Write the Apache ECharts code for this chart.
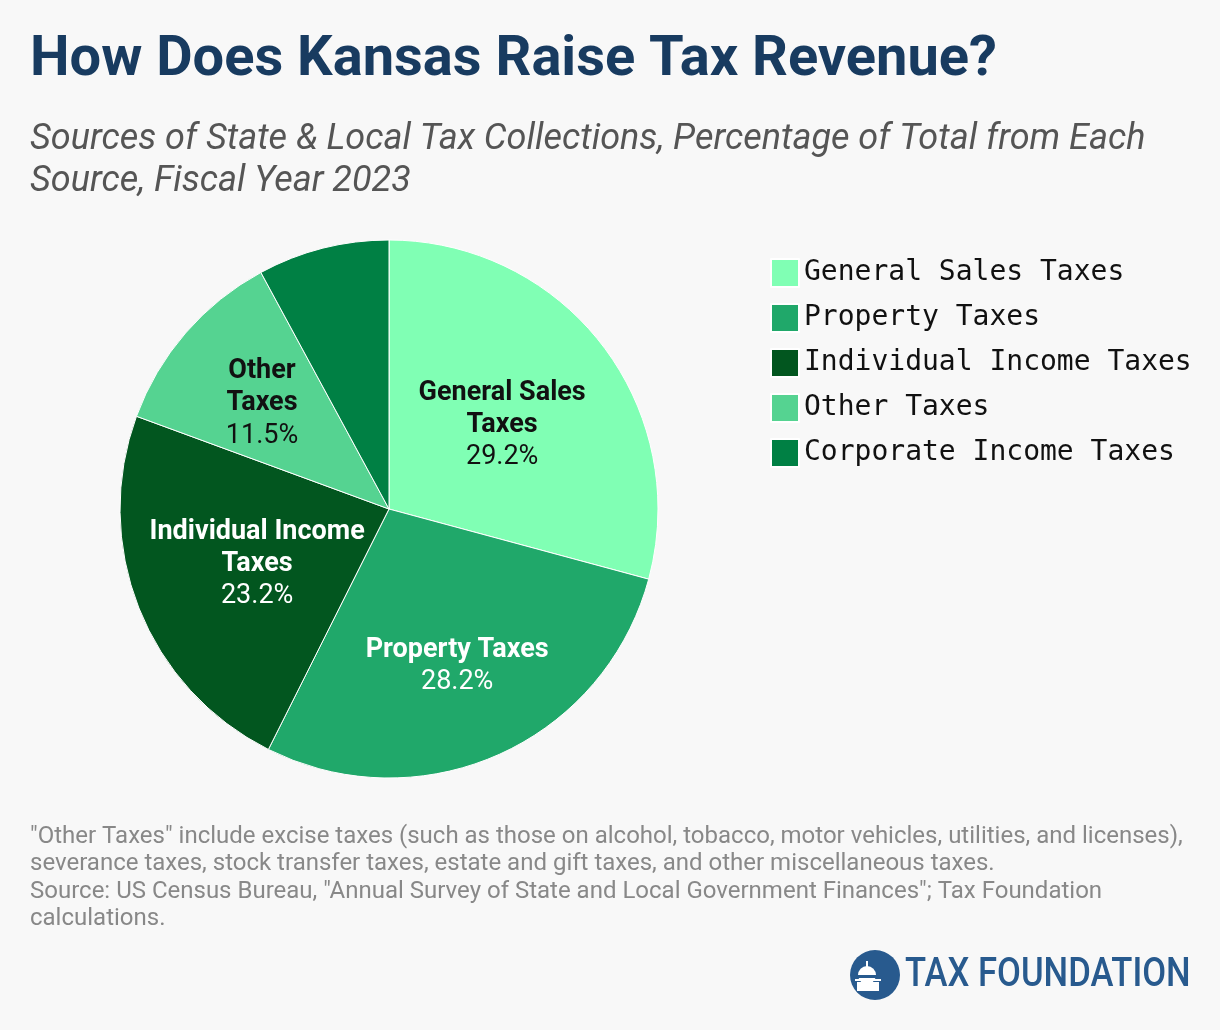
<!DOCTYPE html>
<html>
<head>
<meta charset="utf-8">
<script src="https://cdn.jsdelivr.net/npm/echarts@6/dist/echarts.min.js"></script>
<style>
  html, body { margin: 0; padding: 0; background: #f8f8f8; }
  #chart { width: 1220px; height: 1030px; }
</style>
</head>
<body>
<div id="chart"></div>
<script>
// 数据
const categories = ['General Sales Taxes', 'Property Taxes', 'Individual Income Taxes', 'Other Taxes', 'Corporate Income Taxes'];
const labelNames = ['General Sales\nTaxes', 'Property Taxes', 'Individual Income\nTaxes', 'Other\nTaxes', ''];
const shares = [29.2, 28.2, 23.2, 11.5, 7.9];
const colors = ['#80ffb4', '#20a86a', '#02561f', '#55d391', '#008044'];
const labelColors = ['#111', '#fff', '#fff', '#111', '#fff'];
const labelOffsets = [[4, 0], [12, 32], [-4, 5], [-23, -15], [0, 0]];

const myChart = echarts.init(document.getElementById('chart'));

const pieData = categories.map((name, i) => ({
  name: name,
  value: shares[i],
  itemStyle: { color: colors[i] },
  label: {
    show: labelNames[i] !== '',
    color: labelColors[i],
    offset: labelOffsets[i],
    formatter: '{b|' + labelNames[i] + '}\n{v|' + shares[i].toFixed(1) + '%}',
    rich: {
      b: { fontWeight: 'bold', fontSize: 27, lineHeight: 32, color: labelColors[i], fontFamily: 'Roboto' },
      v: { fontSize: 27, lineHeight: 33, color: labelColors[i], fontFamily: 'Roboto' },
    },
  },
}));

const option = {
  backgroundColor: '#f8f8f8',
  animation: false,
  title: [
    {
      text: 'How Does Kansas Raise Tax Revenue?',
      left: 25,
      top: 28,
      textStyle: { fontFamily: 'Roboto', fontWeight: 'bold', fontSize: 56, color: '#183b60' },
    },
    {
      text: 'Sources of State & Local Tax Collections, Percentage of Total from Each\nSource, Fiscal Year 2023',
      left: 25,
      top: 114,
      textStyle: { fontFamily: 'Roboto', fontStyle: 'italic', fontWeight: 'normal', fontSize: 36, lineHeight: 42, color: '#555' },
    },
    {
      text: '"Other Taxes" include excise taxes (such as those on alcohol, tobacco, motor vehicles, utilities, and licenses),\nseverance taxes, stock transfer taxes, estate and gift taxes, and other miscellaneous taxes.\nSource: US Census Bureau, "Annual Survey of State and Local Government Finances"; Tax Foundation\ncalculations.',
      left: 25,
      top: 818,
      textStyle: { fontFamily: 'Roboto', fontWeight: 'normal', fontSize: 24, lineHeight: 27.5, color: '#888' },
    },
  ],
  legend: {
    orient: 'vertical',
    left: 770,
    top: 258,
    padding: 0,
    itemWidth: 28,
    itemHeight: 28,
    itemGap: 15,
    icon: 'rect',
    selectedMode: false,
    textStyle: { fontFamily: 'DejaVu Sans Mono', fontSize: 28, color: '#111' },
    data: categories,
  },
  graphic: [
    {
      type: 'circle',
      shape: { cx: 875, cy: 975, r: 25 },
      style: { fill: '#285a8e' },
    },
    {
      type: 'group',
      children: [
        { type: 'circle', shape: { cx: 867, cy: 975, r: 9 }, style: { fill: '#fff' } },
        { type: 'rect', shape: { x: 858, y: 975, width: 20, height: 3 }, style: { fill: '#285a8e' } },
        { type: 'rect', shape: { x: 855, y: 979, width: 26, height: 2 }, style: { fill: '#fff' } },
        { type: 'rect', shape: { x: 857, y: 982, width: 22, height: 9 }, style: { fill: '#fff' } },
        { type: 'rect', shape: { x: 866, y: 961, width: 2, height: 6 }, style: { fill: '#fff' } },
      ],
    },
    {
      type: 'text',
      x: 905,
      y: 955,
      scaleX: 0.845,
      style: { text: 'TAX FOUNDATION', fontFamily: 'Roboto', fontSize: 41, fontWeight: 500, fill: '#285a8e' },
    },
  ],
  series: [
    {
      name: 'Kansas',
      type: 'pie',
      center: [389, 509],
      radius: 269,
      startAngle: 90,
      clockwise: true,
      avoidLabelOverlap: false,
      itemStyle: { borderColor: '#fff', borderWidth: 1 },
      label: { position: 'inside', align: 'center' },
      labelLine: { show: false },
      emphasis: { disabled: true },
      data: pieData,
    },
  ],
};

myChart.setOption(option);
</script>
</body>
</html>
